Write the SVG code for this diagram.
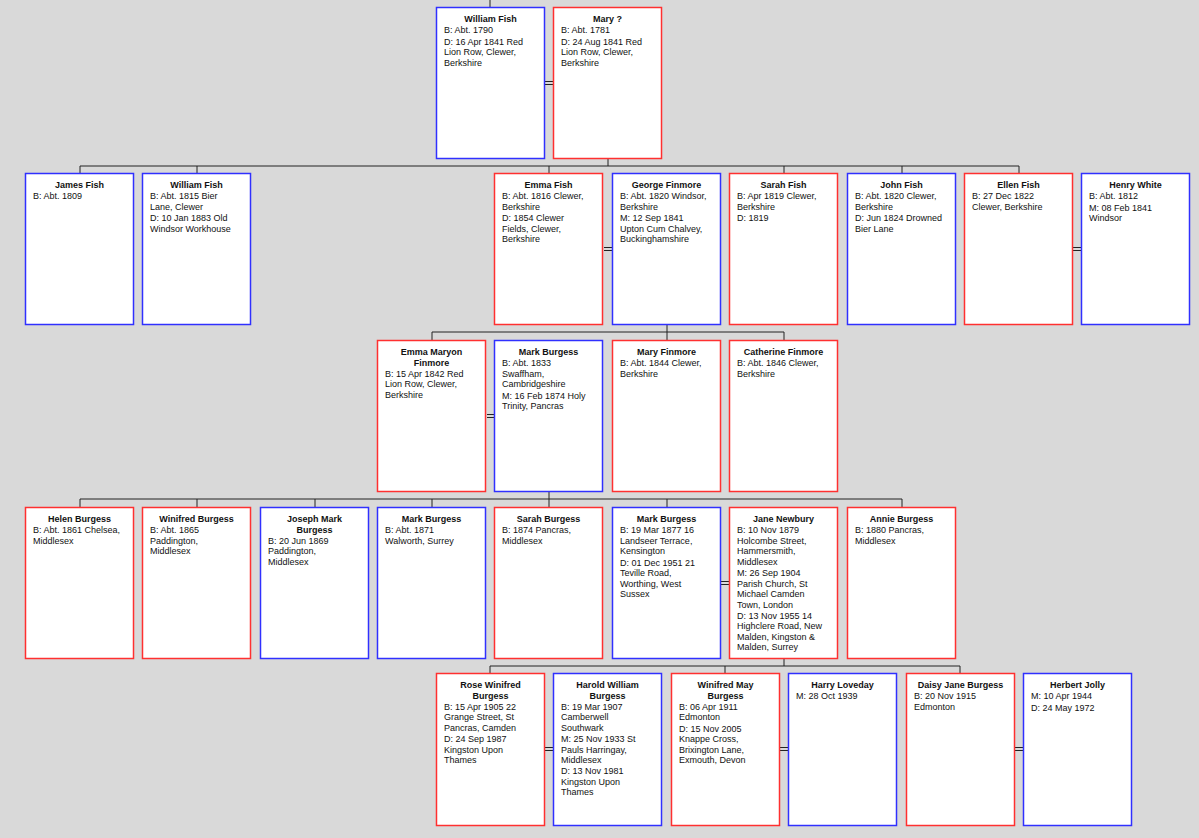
<svg xmlns="http://www.w3.org/2000/svg" width="1199" height="838" viewBox="0 0 1199 838">
<style>
.m rect{fill:#fff;stroke:#3030ff;stroke-width:1.5}
.f rect{fill:#fff;stroke:#ff3030;stroke-width:1.5}
text{font-family:"Liberation Sans",Arial,sans-serif;font-size:9px;fill:#111}
.n{font-weight:bold;text-anchor:middle}
#c path{fill:none;stroke:#222;stroke-width:1}
</style>
<rect width="1199" height="838" fill="#d9d9d9"/>
<g id="c">
<path d="M490 0V7M608 159V166M80 166H1019M80 166V173M197 166V173M549 166V173M784 166V173M902 166V173M1019 166V173"/>
<path d="M667 325V332M432 332H784M432 332V340M667 332V340M784 332V340"/>
<path d="M549 492V499M80 499H902M80 499V507M197 499V507M315 499V507M432 499V507M549 499V507M667 499V507M902 499V507"/>
<path d="M784 659V666M490 666H960M490 666V673M725 666V673M960 666V673"/>
<path d="M545 81.5H553M545 84.5H553M604 247.5H612M604 250.5H612M1073 247.5H1081M1073 250.5H1081M487 414.5H494M487 417.5H494M721 581.5H729M721 584.5H729M545 747.5H553M545 750.5H553M780 747.5H788M780 750.5H788M1015 747.5H1023M1015 750.5H1023"/>
</g>
<g id="n1" class="m"><rect x="436.5" y="7.5" width="108" height="151"/><text x="444" y="22"><tspan class="n" x="490.5">William Fish</tspan><tspan x="444" dy="11.3">B: Abt. 1790</tspan><tspan x="444" dy="11.2">D: 16 Apr 1841 Red</tspan><tspan x="444" dy="10.5">Lion Row, Clewer,</tspan><tspan x="444" dy="10.5">Berkshire</tspan></text></g>
<g id="n2" class="f"><rect x="553.5" y="7.5" width="108" height="151"/><text x="561" y="22"><tspan class="n" x="607.5">Mary ?</tspan><tspan x="561" dy="11.3">B: Abt. 1781</tspan><tspan x="561" dy="11.2">D: 24 Aug 1841 Red</tspan><tspan x="561" dy="10.5">Lion Row, Clewer,</tspan><tspan x="561" dy="10.5">Berkshire</tspan></text></g>

<g id="n3" class="m"><rect x="25.5" y="173.5" width="108" height="151"/><text y="188"><tspan class="n" x="79.5">James Fish</tspan><tspan x="33" dy="11.3">B: Abt. 1809</tspan></text></g>
<g id="n4" class="m"><rect x="142.5" y="173.5" width="108" height="151"/><text y="188"><tspan class="n" x="196.5">William Fish</tspan><tspan x="150" dy="11.3">B: Abt. 1815 Bier</tspan><tspan x="150" dy="10.5">Lane, Clewer</tspan><tspan x="150" dy="11.2">D: 10 Jan 1883 Old</tspan><tspan x="150" dy="10.5">Windsor Workhouse</tspan></text></g>
<g id="n5" class="f"><rect x="494.5" y="173.5" width="108" height="151"/><text y="188"><tspan class="n" x="548.5">Emma Fish</tspan><tspan x="502" dy="11.3">B: Abt. 1816 Clewer,</tspan><tspan x="502" dy="10.5">Berkshire</tspan><tspan x="502" dy="11.2">D: 1854 Clewer</tspan><tspan x="502" dy="10.5">Fields, Clewer,</tspan><tspan x="502" dy="10.5">Berkshire</tspan></text></g>
<g id="n6" class="m"><rect x="612.5" y="173.5" width="108" height="151"/><text y="188"><tspan class="n" x="666.5">George Finmore</tspan><tspan x="620" dy="11.3">B: Abt. 1820 Windsor,</tspan><tspan x="620" dy="10.5">Berkshire</tspan><tspan x="620" dy="11.2">M: 12 Sep 1841</tspan><tspan x="620" dy="10.5">Upton Cum Chalvey,</tspan><tspan x="620" dy="10.5">Buckinghamshire</tspan></text></g>
<g id="n7" class="f"><rect x="729.5" y="173.5" width="108" height="151"/><text y="188"><tspan class="n" x="783.5">Sarah Fish</tspan><tspan x="737" dy="11.3">B: Apr 1819 Clewer,</tspan><tspan x="737" dy="10.5">Berkshire</tspan><tspan x="737" dy="11.2">D: 1819</tspan></text></g>
<g id="n8" class="m"><rect x="847.5" y="173.5" width="108" height="151"/><text y="188"><tspan class="n" x="901.5">John Fish</tspan><tspan x="855" dy="11.3">B: Abt. 1820 Clewer,</tspan><tspan x="855" dy="10.5">Berkshire</tspan><tspan x="855" dy="11.2">D: Jun 1824 Drowned</tspan><tspan x="855" dy="10.5">Bier Lane</tspan></text></g>
<g id="n9" class="f"><rect x="964.5" y="173.5" width="108" height="151"/><text y="188"><tspan class="n" x="1018.5">Ellen Fish</tspan><tspan x="972" dy="11.3">B: 27 Dec 1822</tspan><tspan x="972" dy="10.5">Clewer, Berkshire</tspan></text></g>
<g id="n10" class="m"><rect x="1081.5" y="173.5" width="108" height="151"/><text y="188"><tspan class="n" x="1135.5">Henry White</tspan><tspan x="1089" dy="11.3">B: Abt. 1812</tspan><tspan x="1089" dy="11.2">M: 08 Feb 1841</tspan><tspan x="1089" dy="10.5">Windsor</tspan></text></g>

<g id="n11" class="f"><rect x="377.5" y="340.5" width="108" height="151"/><text y="355"><tspan class="n" x="431.5">Emma Maryon</tspan><tspan class="n" x="431.5" dy="10.5">Finmore</tspan><tspan x="385" dy="11.3">B: 15 Apr 1842 Red</tspan><tspan x="385" dy="10.5">Lion Row, Clewer,</tspan><tspan x="385" dy="10.5">Berkshire</tspan></text></g>
<g id="n12" class="m"><rect x="494.5" y="340.5" width="108" height="151"/><text y="355"><tspan class="n" x="548.5">Mark Burgess</tspan><tspan x="502" dy="11.3">B: Abt. 1833</tspan><tspan x="502" dy="10.5">Swaffham,</tspan><tspan x="502" dy="10.5">Cambridgeshire</tspan><tspan x="502" dy="11.2">M: 16 Feb 1874 Holy</tspan><tspan x="502" dy="10.5">Trinity, Pancras</tspan></text></g>
<g id="n13" class="f"><rect x="612.5" y="340.5" width="108" height="151"/><text y="355"><tspan class="n" x="666.5">Mary Finmore</tspan><tspan x="620" dy="11.3">B: Abt. 1844 Clewer,</tspan><tspan x="620" dy="10.5">Berkshire</tspan></text></g>
<g id="n14" class="f"><rect x="729.5" y="340.5" width="108" height="151"/><text y="355"><tspan class="n" x="783.5">Catherine Finmore</tspan><tspan x="737" dy="11.3">B: Abt. 1846 Clewer,</tspan><tspan x="737" dy="10.5">Berkshire</tspan></text></g>

<g id="n15" class="f"><rect x="25.5" y="507.5" width="108" height="151"/><text y="522"><tspan class="n" x="79.5">Helen Burgess</tspan><tspan x="33" dy="11.3">B: Abt. 1861 Chelsea,</tspan><tspan x="33" dy="10.5">Middlesex</tspan></text></g>
<g id="n16" class="f"><rect x="142.5" y="507.5" width="108" height="151"/><text y="522"><tspan class="n" x="196.5">Winifred Burgess</tspan><tspan x="150" dy="11.3">B: Abt. 1865</tspan><tspan x="150" dy="10.5">Paddington,</tspan><tspan x="150" dy="10.5">Middlesex</tspan></text></g>
<g id="n17" class="m"><rect x="260.5" y="507.5" width="108" height="151"/><text y="522"><tspan class="n" x="314.5">Joseph Mark</tspan><tspan class="n" x="314.5" dy="10.5">Burgess</tspan><tspan x="268" dy="11.3">B: 20 Jun 1869</tspan><tspan x="268" dy="10.5">Paddington,</tspan><tspan x="268" dy="10.5">Middlesex</tspan></text></g>
<g id="n18" class="m"><rect x="377.5" y="507.5" width="108" height="151"/><text y="522"><tspan class="n" x="431.5">Mark Burgess</tspan><tspan x="385" dy="11.3">B: Abt. 1871</tspan><tspan x="385" dy="10.5">Walworth, Surrey</tspan></text></g>
<g id="n19" class="f"><rect x="494.5" y="507.5" width="108" height="151"/><text y="522"><tspan class="n" x="548.5">Sarah Burgess</tspan><tspan x="502" dy="11.3">B: 1874 Pancras,</tspan><tspan x="502" dy="10.5">Middlesex</tspan></text></g>
<g id="n20" class="m"><rect x="612.5" y="507.5" width="108" height="151"/><text y="522"><tspan class="n" x="666.5">Mark Burgess</tspan><tspan x="620" dy="11.3">B: 19 Mar 1877 16</tspan><tspan x="620" dy="10.5">Landseer Terrace,</tspan><tspan x="620" dy="10.5">Kensington</tspan><tspan x="620" dy="11.2">D: 01 Dec 1951 21</tspan><tspan x="620" dy="10.5">Teville Road,</tspan><tspan x="620" dy="10.5">Worthing, West</tspan><tspan x="620" dy="10.5">Sussex</tspan></text></g>
<g id="n21" class="f"><rect x="729.5" y="507.5" width="108" height="151"/><text y="522"><tspan class="n" x="783.5">Jane Newbury</tspan><tspan x="737" dy="11.3">B: 10 Nov 1879</tspan><tspan x="737" dy="10.5">Holcombe Street,</tspan><tspan x="737" dy="10.5">Hammersmith,</tspan><tspan x="737" dy="10.5">Middlesex</tspan><tspan x="737" dy="11.2">M: 26 Sep 1904</tspan><tspan x="737" dy="10.5">Parish Church, St</tspan><tspan x="737" dy="10.5">Michael Camden</tspan><tspan x="737" dy="10.5">Town, London</tspan><tspan x="737" dy="11.2">D: 13 Nov 1955 14</tspan><tspan x="737" dy="10.5">Highclere Road, New</tspan><tspan x="737" dy="10.5">Malden, Kingston &amp;</tspan><tspan x="737" dy="10.5">Malden, Surrey</tspan></text></g>
<g id="n22" class="f"><rect x="847.5" y="507.5" width="108" height="151"/><text y="522"><tspan class="n" x="901.5">Annie Burgess</tspan><tspan x="855" dy="11.3">B: 1880 Pancras,</tspan><tspan x="855" dy="10.5">Middlesex</tspan></text></g>

<g id="n23" class="f"><rect x="436.5" y="673.5" width="108" height="152"/><text y="688"><tspan class="n" x="490.5">Rose Winifred</tspan><tspan class="n" x="490.5" dy="10.5">Burgess</tspan><tspan x="444" dy="11.3">B: 15 Apr 1905 22</tspan><tspan x="444" dy="10.5">Grange Street, St</tspan><tspan x="444" dy="10.5">Pancras, Camden</tspan><tspan x="444" dy="11.2">D: 24 Sep 1987</tspan><tspan x="444" dy="10.5">Kingston Upon</tspan><tspan x="444" dy="10.5">Thames</tspan></text></g>
<g id="n24" class="m"><rect x="553.5" y="673.5" width="108" height="152"/><text y="688"><tspan class="n" x="607.5">Harold William</tspan><tspan class="n" x="607.5" dy="10.5">Burgess</tspan><tspan x="561" dy="11.3">B: 19 Mar 1907</tspan><tspan x="561" dy="10.5">Camberwell</tspan><tspan x="561" dy="10.5">Southwark</tspan><tspan x="561" dy="11.2">M: 25 Nov 1933 St</tspan><tspan x="561" dy="10.5">Pauls Harringay,</tspan><tspan x="561" dy="10.5">Middlesex</tspan><tspan x="561" dy="11.2">D: 13 Nov 1981</tspan><tspan x="561" dy="10.5">Kingston Upon</tspan><tspan x="561" dy="10.5">Thames</tspan></text></g>
<g id="n25" class="f"><rect x="671.5" y="673.5" width="108" height="152"/><text y="688"><tspan class="n" x="725.5">Winifred May</tspan><tspan class="n" x="725.5" dy="10.5">Burgess</tspan><tspan x="679" dy="11.3">B: 06 Apr 1911</tspan><tspan x="679" dy="10.5">Edmonton</tspan><tspan x="679" dy="11.2">D: 15 Nov 2005</tspan><tspan x="679" dy="10.5">Knappe Cross,</tspan><tspan x="679" dy="10.5">Brixington Lane,</tspan><tspan x="679" dy="10.5">Exmouth, Devon</tspan></text></g>
<g id="n26" class="m"><rect x="788.5" y="673.5" width="108" height="152"/><text y="688"><tspan class="n" x="842.5">Harry Loveday</tspan><tspan x="796" dy="11.3">M: 28 Oct 1939</tspan></text></g>
<g id="n27" class="f"><rect x="906.5" y="673.5" width="108" height="152"/><text y="688"><tspan class="n" x="960.5">Daisy Jane Burgess</tspan><tspan x="914" dy="11.3">B: 20 Nov 1915</tspan><tspan x="914" dy="10.5">Edmonton</tspan></text></g>
<g id="n28" class="m"><rect x="1023.5" y="673.5" width="108" height="152"/><text y="688"><tspan class="n" x="1077.5">Herbert Jolly</tspan><tspan x="1031" dy="11.3">M: 10 Apr 1944</tspan><tspan x="1031" dy="11.2">D: 24 May 1972</tspan></text></g>
</svg>
